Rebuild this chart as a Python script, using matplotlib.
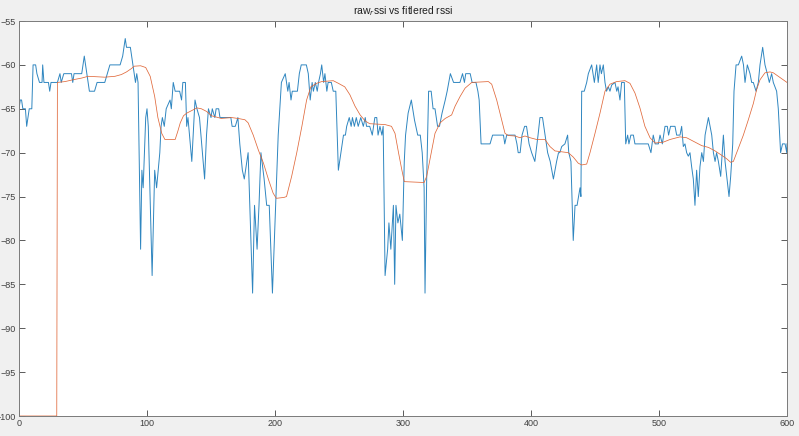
import matplotlib
matplotlib.use("Agg")
import matplotlib.pyplot as plt

# raw rssi (blue), vertices
raw_x = [0, 1, 2, 3, 5, 6, 8, 10, 11, 13, 14, 16, 18, 18.5, 19.5, 23, 24, 25, 30, 32, 33, 35, 41, 42, 43, 49, 51, 53,
         55, 59, 61, 67, 69, 71, 79, 81, 83, 84, 87, 89, 91, 92, 93, 95, 96, 97, 99, 100, 101, 104, 106, 107.5, 110,
         111, 112, 113.5, 115, 118, 119, 120.5, 122, 125.5, 127, 128, 130, 131, 132, 135, 137.5, 139, 141, 145,
         146.5, 148, 150, 151, 153, 154, 156, 157, 165.5, 166.5, 169, 171, 172.5, 174.5, 176, 179, 182.5, 184, 186,
         187.5, 189, 191.5, 193.5, 195.5, 198, 200, 202.5, 205, 208, 210, 211, 212.5, 213.5, 217.5, 219, 220.5,
         224.5, 226, 227.5, 229, 230, 231.5, 233, 234, 235.5, 236.5, 238, 239, 240.5, 241.5, 244, 245.5, 247.5,
         249.5, 251.5, 253.5, 255, 256, 258, 259.5, 260.5, 262, 263.5, 265, 267, 269, 270.5, 271.5, 274, 276, 278,
         279.5, 280.5, 282, 283.5, 284.5, 286, 288, 289, 290.5, 292.5, 293.5, 294.5, 296, 297.5, 299.5, 301, 302,
         304, 306.5, 309, 311.5, 313.5, 315, 316.5, 317.2, 318.5, 320, 322, 323.5, 325, 327, 328.5, 330.5, 333,
         334.5, 337, 339.5, 344.5, 346.5, 348, 349, 352.5, 354, 357, 358.5, 359.5, 361, 368, 370, 378.5, 379.5, 381,
         387.5, 389, 390, 391.5, 393, 395, 396.5, 398.5, 400.5, 403, 405.5, 407, 409, 411, 413, 415, 417.5, 420,
         421.5, 422.5, 424, 426.5, 428.6, 429.5, 431.2, 433, 434.4, 436, 438.3, 439, 439.6, 441.6, 443.5, 444.8,
         447.4, 449.5, 451.3, 452.5, 453.9, 455, 456.5, 457.8, 459, 460.4, 461.7, 463, 465.6, 467, 468, 469.5,
         470.8, 472.9, 474, 475.5, 476.5, 478, 480, 481.2, 491.6, 493.7, 495.5, 497, 499.5, 500.8, 502.6, 504.7,
         506.5, 507.5, 509, 512.5, 513.8, 516.4, 517.7, 519, 520.3, 521.6, 522.9, 524.2, 525.5, 526.8, 528.1,
         529.4, 530.7, 532, 533.4, 534.7, 536, 537.3, 538.6, 539.9, 541.2, 542.5, 543.8, 545, 546.4, 548.2, 550.3,
         551.6, 552.9, 554.7, 556, 557.6, 558.6, 560.2, 562, 564.6, 566, 567.2, 569, 571.1, 572.4, 573.7, 575.8,
         577.6, 578.9, 581, 582.8, 584.6, 586.2, 588, 589.3, 591.9, 593.2, 595, 596.5, 598.5, 599.8, 600]
raw_y = [-65, -64, -64, -65, -65, -67, -65, -65, -60, -60, -61, -62, -62, -60, -62, -62, -63, -62, -62, -61, -62, -61,
         -61, -62, -61, -61, -59, -61, -63, -63, -62, -62, -61, -60, -60, -59, -57, -58, -58, -60, -62, -61, -62,
         -81, -72, -74, -66, -65, -67, -84, -72, -74, -70, -67, -66, -67, -65, -64, -65, -62, -63, -63, -64, -62,
         -62, -67, -66, -71, -64, -65, -66, -73, -68, -65, -66, -65, -66, -65, -65, -66, -66, -67, -67, -66, -69,
         -72, -73, -70, -86, -76, -81, -76, -70, -73, -76, -76, -86, -78, -68, -62, -61, -63, -62, -64, -63, -63,
         -61, -60, -60, -61, -64, -62, -63, -62, -63, -62, -61, -60, -62, -61, -63, -62, -62, -63, -63, -72, -70,
         -68, -68, -67, -66, -67, -66, -67, -66, -67, -66, -67, -66, -67, -67, -68, -66, -66, -68, -67, -68, -67,
         -84, -81, -78, -81, -76, -85, -76, -78, -77, -80, -71, -68, -65.5, -64, -66.3, -68, -68, -70, -74, -86,
         -73, -63, -63, -65, -65, -67, -67, -65.5, -64, -63, -61, -62, -62, -61, -62, -61, -61, -62, -62, -63, -64,
         -69, -69, -68, -68, -69, -68, -68, -69, -70, -70, -68, -67, -67, -69, -70, -71, -68, -66, -66, -68, -70,
         -71, -73, -71, -70, -70, -69.3, -69, -68, -70, -71, -80, -76, -76, -74, -75, -63, -63, -62, -61, -60, -62,
         -60, -62, -60, -61, -60, -62, -63, -62.5, -63, -62.3, -62, -63, -62.5, -64, -62, -62, -69, -68, -69, -68,
         -68, -69, -69, -70, -68, -69, -69, -68, -69, -67, -67, -68, -67, -67, -68, -68, -67, -69.3, -69, -70,
         -70.4, -70, -71.6, -73, -76, -72, -75, -71.6, -70, -71, -68, -67, -66, -67, -68, -70, -71, -70, -71, -72.7,
         -68, -71, -72.7, -75, -72.7, -69, -63, -60, -60, -59, -60, -62, -60, -61, -62, -62, -63, -62, -60, -58,
         -60, -61, -62, -61, -62, -63, -65, -70, -69, -69, -70, -69]

# filtered rssi (orange)
filt_x = [0, 29.5, 30, 36, 42, 49, 54, 67, 75, 80, 84, 88, 90, 95, 99, 102.5, 106, 108.5, 111.5, 114, 122, 124, 126,
          128.5, 131, 135, 139, 142.5, 146.5, 150.5, 158, 166, 171, 176.5, 179, 183, 187, 191, 195, 198.5, 201, 207,
          209, 213, 217, 221, 224.7, 228, 232.5, 236.5, 245.5, 249.5, 254.5, 258.5, 262.5, 266.5, 270.5, 274, 286,
          291, 293.75, 296.5, 299, 301, 316.5, 318.5, 321, 325, 329, 333, 338, 340.7, 344.6, 348.5, 353.7, 366.7,
          369.3, 373.2, 377.1, 379.7, 382.3, 387.5, 391.4, 395.3, 399.3, 404.5, 410.9, 414.8, 418.7, 423.9, 429.1,
          433, 436.9, 439.6, 443.5, 446.1, 450, 453.9, 457.8, 461.7, 466.9, 473.4, 477.3, 481.2, 485.1, 489, 493,
          496.9, 503.4, 508.6, 516.4, 521.6, 526.8, 533.4, 538.6, 543.8, 549, 552.9, 556, 558.1, 562, 565.9, 569.8,
          573.7, 576.3, 578.9, 582.8, 586.7, 589.3, 593.2, 597.2, 600]
filt_y = [-100, -100, -62, -61.9, -61.7, -61.5, -61.3, -61.4, -61.3, -61.1, -60.8, -60.4, -60.15, -60.1, -60.3,
          -61.3, -63.6, -66, -67.8, -68.5, -68.5, -67.6, -66.6, -65.8, -65.5, -65.2, -64.9, -65, -65.3, -65.8, -66.1,
          -66, -66.1, -66.25, -66.6, -68, -69.7, -71.2, -73.1, -74.6, -75.2, -75.1, -75, -72.7, -70, -67, -64, -62.5,
          -62.1, -61.9, -61.8, -62.1, -62.5, -63.4, -64.7, -65.7, -66.4, -66.7, -66.8, -67, -67.8, -70, -71.9, -73.3,
          -73.4, -72.7, -70.8, -67.8, -66.6, -66.1, -65.7, -64.7, -63.6, -62.65, -62, -61.9, -62.2, -64, -66.25,
          -67.8, -68.05, -68.1, -68.3, -68.1, -68.3, -68.5, -68.5, -69.3, -69.8, -69.9, -70, -70.5, -71.2, -71.4,
          -71.3, -70, -67.8, -65.5, -63, -62.2, -61.9, -61.8, -62.1, -63.2, -64.9, -67, -68.3, -68.9, -68.8, -68.5,
          -68.2, -68.3, -68.7, -69.2, -69.4, -69.8, -70.3, -70.7, -71.1, -71, -69.5, -68, -66.25, -64.4, -62.8,
          -61.7, -60.9, -60.8, -60.9, -61.3, -61.7, -62]

plt.rcParams['font.family'] = ['Liberation Sans', 'DejaVu Sans']

fig = plt.figure(figsize=(7.99, 4.36), dpi=100, facecolor='#f0f0f0')
ax = fig.add_axes([19 / 799, 20 / 436, 768 / 799, 395 / 436])

ax.plot(raw_x, raw_y, color='#2f86c0', linewidth=0.7)
ax.plot(filt_x, filt_y, color='#e0683a', linewidth=0.55)

ax.set_xlim(0, 600)
ax.set_ylim(-100, -55)
ax.set_xticks(range(0, 601, 100))
ax.set_yticks(range(-100, -54, 5))
ax.tick_params(direction='in', top=True, right=True, labelsize=6.5, colors='#404040',
               length=4, width=0.6, pad=2)
for s in ax.spines.values():
    s.set_color('#7a7a7a')
    s.set_linewidth(0.7)

ax.set_title(r'raw$_r$ssi vs fitlered rssi', fontsize=7.5, color='#202020', pad=5)

fig.savefig('out.png', dpi=100, facecolor=fig.get_facecolor())
